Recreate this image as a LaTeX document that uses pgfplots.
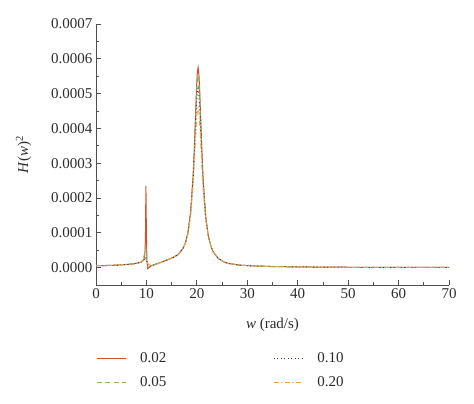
\documentclass[border=0pt]{standalone}
\usepackage{pgfplots}
\pgfplotsset{compat=1.18}
\usepackage{pgfplotstable}
\usepackage{fontspec}
\setmainfont{Liberation Serif}
\definecolor{cRed}{RGB}{210,80,45}
\definecolor{cGreen}{RGB}{130,185,90}
\definecolor{cDot}{RGB}{60,55,100}
\definecolor{cOrange}{RGB}{232,165,80}
\definecolor{axgray}{RGB}{80,80,80}
\definecolor{txgray}{RGB}{45,45,45}
\newcommand{\bigf}{\fontsize{15}{18}\selectfont\color{txgray}}
\newcommand{\legf}{\fontsize{15}{18}\selectfont}

\pgfplotstableread{
w v
0 0.0000055
2 0.0000060
4 0.0000070
6 0.0000090
7.5 0.0000110
8.5 0.0000140
9.0 0.0000160
9.5 0.0000240
9.7 0.0000400
9.8 0.0000800
9.9 0.0002350
10.0 0.0000900
10.1 0.0000200
10.25 -0.0000030
10.5 0.0000000
10.8 0.0000040
11.5 0.0000080
12.25 0.0000120
13.25 0.0000170
14.25 0.0000230
15.25 0.0000290
16.25 0.0000370
17.25 0.0000550
17.75 0.0000720
18.25 0.0001030
18.75 0.0001580
19.25 0.0002620
19.5 0.0003450
19.75 0.0004420
19.95 0.0005220
20.1 0.0005610
20.25 0.0005750
20.4 0.0005570
20.55 0.0005150
20.75 0.0004350
21.0 0.0003350
21.25 0.0002520
21.75 0.0001480
22.25 0.0000930
22.75 0.0000630
23.25 0.0000450
24.25 0.0000260
25.25 0.0000170
26.25 0.0000120
28.25 0.0000075
30.25 0.0000055
35 0.0000030
40 0.0000020
50 0.0000010
60 0.0000007
70 0.0000005
}\tRed

\pgfplotstableread{
w v
0 0.0000055
2 0.0000060
4 0.0000070
6 0.0000090
7.5 0.0000110
8.5 0.0000140
9.0 0.0000160
9.4 0.0000250
9.6 0.0000380
9.8 0.0000580
9.95 0.0000500
10.1 0.0000200
10.3 0.0000020
10.5 0.0000010
10.8 0.0000040
11.5 0.0000080
12.25 0.0000120
13.25 0.0000170
14.25 0.0000230
15.25 0.0000290
16.25 0.0000370
17.25 0.0000550
17.75 0.0000720
18.25 0.0001010
18.75 0.0001560
19.25 0.0002580
19.5 0.0003370
19.75 0.0004300
19.95 0.0005040
20.1 0.0005410
20.25 0.0005530
20.4 0.0005370
20.55 0.0004960
20.75 0.0004220
21.0 0.0003270
21.25 0.0002480
21.75 0.0001460
22.25 0.0000910
22.75 0.0000630
23.25 0.0000450
24.25 0.0000260
25.25 0.0000170
26.25 0.0000120
28.25 0.0000075
30.25 0.0000055
35 0.0000030
40 0.0000020
50 0.0000010
60 0.0000007
70 0.0000005
}\tGreen

\pgfplotstableread{
w v
0 0.0000055
2 0.0000060
4 0.0000070
6 0.0000090
7.5 0.0000110
8.5 0.0000140
9.0 0.0000160
9.5 0.0000220
9.8 0.0000300
10.0 0.0000220
10.3 0.0000060
10.6 0.0000040
10.8 0.0000050
11.5 0.0000080
12.25 0.0000120
13.25 0.0000170
14.25 0.0000230
15.25 0.0000290
16.25 0.0000370
17.25 0.0000550
17.75 0.0000720
18.25 0.0001000
18.75 0.0001530
19.25 0.0002500
19.5 0.0003230
19.75 0.0004070
19.95 0.0004720
20.1 0.0005040
20.25 0.0005150
20.4 0.0005000
20.55 0.0004640
20.75 0.0003990
21.0 0.0003130
21.25 0.0002400
21.75 0.0001430
22.25 0.0000900
22.75 0.0000630
23.25 0.0000450
24.25 0.0000260
25.25 0.0000170
26.25 0.0000120
28.25 0.0000075
30.25 0.0000055
35 0.0000030
40 0.0000020
50 0.0000010
60 0.0000007
70 0.0000005
}\tDot

\pgfplotstableread{
w v
0 0.0000055
2 0.0000060
4 0.0000070
6 0.0000090
7.5 0.0000110
8.5 0.0000140
9.0 0.0000160
9.5 0.0000210
9.8 0.0000250
10.0 0.0000200
10.3 0.0000100
10.8 0.0000070
11.5 0.0000080
12.25 0.0000120
13.25 0.0000170
14.25 0.0000230
15.25 0.0000290
16.25 0.0000370
17.25 0.0000550
17.75 0.0000720
18.25 0.0000980
18.75 0.0001480
19.25 0.0002360
19.5 0.0003010
19.75 0.0003730
19.95 0.0004260
20.1 0.0004520
20.25 0.0004600
20.4 0.0004480
20.55 0.0004180
20.75 0.0003650
21.0 0.0002910
21.25 0.0002260
21.75 0.0001380
22.25 0.0000880
22.75 0.0000630
23.25 0.0000450
24.25 0.0000260
25.25 0.0000170
26.25 0.0000120
28.25 0.0000075
30.25 0.0000055
35 0.0000030
40 0.0000020
50 0.0000010
60 0.0000007
70 0.0000005
}\tOrange

\begin{document}
\begin{tikzpicture}
\begin{axis}[
  name=ax,
  scale only axis,
  width=353pt, height=261pt,
  xmin=0, xmax=70, ymin=-0.00005, ymax=0.0007,
  axis lines=left,
  axis line style={-, axgray, line width=0.8pt},
  tick style={axgray, line width=0.8pt},
  tick align=inside,
  major tick length=5pt,
  minor tick length=3pt,
  xtick={0,10,...,70},
  ytick={0,0.0001,...,0.0007},
  minor x tick num=1,
  minor y tick num=1,
  scaled y ticks=false,
  /pgf/number format/assume math mode=true,
  yticklabel style={/pgf/number format/.cd, fixed, fixed zerofill, precision=4},
  ticklabel style={font=\bigf},
  xlabel={\textit{w} (rad/s)},
  ylabel={\textit{H}(\textit{w})\textsuperscript{2}},
  every axis x label/.style={at={(axis description cs:0.5,-0.153)}, anchor=center, font=\bigf},
  every axis y label/.style={at={(axis description cs:-0.205,0.5)}, rotate=90, anchor=center, font=\bigf},
  legend style={at={(axis description cs:0,-0.252)}, anchor=north west, draw=none,
    font=\legf, inner sep=0pt,
    row sep=8pt,
    /tikz/every odd column/.append style={column sep=12pt},
    /tikz/every even column/.append style={column sep=105pt}},
  legend columns=2,
  transpose legend,
  legend cell align=left,
  legend image code/.code={\draw[#1] (0pt,0pt) -- (29pt,0pt);},
]
\addplot[cRed, line width=1pt] table[x=w, y=v] {\tRed};
\addlegendentry{\textcolor{txgray}{0.02}}
\addplot[cGreen, line width=1pt, dash pattern=on 5pt off 3.5pt] table[x=w, y=v] {\tGreen};
\addlegendentry{\textcolor{txgray}{0.05}}
\addplot[cDot, line width=1pt, dash pattern=on 1pt off 2.5pt] table[x=w, y=v] {\tDot};
\addlegendentry{\textcolor{txgray}{0.10}}
\addplot[cOrange, line width=1pt, dash pattern=on 5pt off 2.5pt on 1pt off 2.5pt] table[x=w, y=v] {\tOrange};
\addlegendentry{\textcolor{txgray}{0.20}}
\end{axis}
\pgfresetboundingbox
\path[use as bounding box] ([xshift=-96pt,yshift=-118pt]ax.south west) rectangle ([xshift=25pt,yshift=24pt]ax.north east);
\end{tikzpicture}
\end{document}
